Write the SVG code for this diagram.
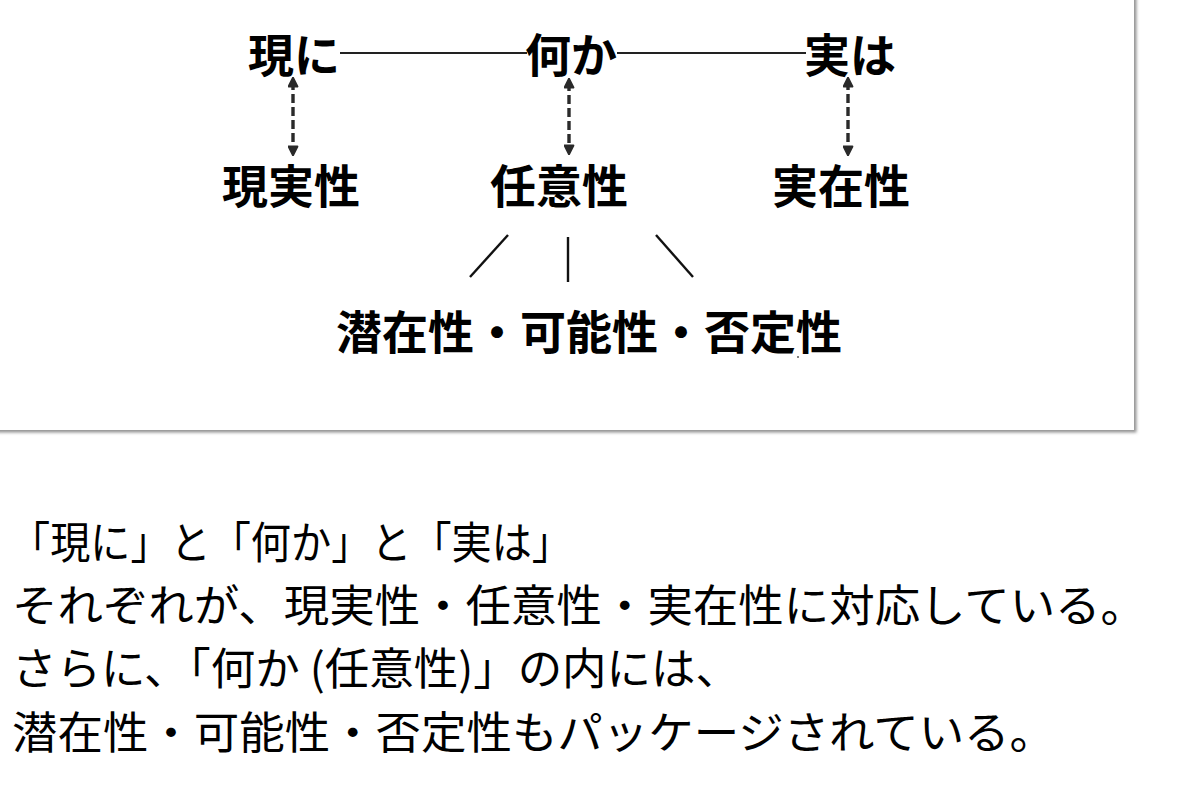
<svg xmlns="http://www.w3.org/2000/svg" width="1200" height="800" viewBox="0 0 1200 800">
  <defs>
    <filter id="shadow" x="-5%" y="-5%" width="110%" height="110%">
      <feDropShadow dx="2.5" dy="2.5" stdDeviation="1.5" flood-color="#777" flood-opacity="0.8"/>
    </filter>
    <marker id="head" viewBox="0 0 10 10" refX="6" refY="5" markerWidth="11" markerHeight="11" markerUnits="userSpaceOnUse" orient="auto-start-reverse">
      <path d="M1,1 L9,5 L1,9 z" fill="#2a2a2a" stroke="#2a2a2a" stroke-width="1.8" stroke-linejoin="round"/>
    </marker>
    <style>
      .lbl { font-family: "Noto Sans CJK JP", "Noto Sans CJK SC", sans-serif; font-weight: bold; font-size: 46px; fill: #000; text-anchor: middle; }
      .body { font-family: "Noto Sans CJK JP", "Noto Sans CJK SC", sans-serif; font-size: 44px; fill: #000; }
      .solid { stroke: #222; stroke-width: 1.8; fill: none; }
      .branch { stroke: #111; stroke-width: 2.4; fill: none; }
      .dash { stroke: #2a2a2a; stroke-width: 3.4; stroke-dasharray: 9 4; fill: none; marker-start: url(#head); marker-end: url(#head); }
    </style>
  </defs>
  <rect x="0" y="0" width="1200" height="800" fill="#ffffff"/>
  <rect x="-10" y="-10" width="1144" height="440" fill="#ffffff" filter="url(#shadow)"/>

  <g id="connectors">
    <line class="solid" x1="340" y1="53" x2="527" y2="53"/>
    <line class="solid" x1="617" y1="53" x2="806" y2="53"/>
    <line class="dash" x1="293" y1="81" x2="293" y2="152"/>
    <line class="dash" x1="569" y1="82" x2="569" y2="151"/>
    <line class="dash" x1="848" y1="81" x2="848" y2="152"/>
    <line class="branch" x1="508" y1="235" x2="470" y2="277"/>
    <line class="branch" x1="568" y1="237" x2="568" y2="282"/>
    <line class="branch" x1="656" y1="235" x2="693" y2="277"/>
  </g>

  <g id="node-genni"><text class="lbl" x="294" y="72">現に</text></g>
  <g id="node-nanika"><text class="lbl" x="571" y="72">何か</text></g>
  <g id="node-jitsuha"><text class="lbl" x="850" y="72">実は</text></g>
  <g id="node-genjitsusei"><text class="lbl" x="291" y="203">現実性</text></g>
  <g id="node-niisei"><text class="lbl" x="559" y="203">任意性</text></g>
  <g id="node-jitsuzaisei"><text class="lbl" x="841" y="203">実在性</text></g>
  <g id="node-sub"><text class="lbl" x="589" y="349">潜在性・可能性・否定性</text></g>
  <circle cx="798" cy="357" r="1" fill="#555"/>

  <g id="caption">
    <text class="body" x="10" y="559" textLength="562" lengthAdjust="spacingAndGlyphs">「現に」と「何か」と「実は」</text>
    <text class="body" x="12" y="622" textLength="1134" lengthAdjust="spacingAndGlyphs">それぞれが、現実性・任意性・実在性に対応している。</text>
    <text class="body" x="12" y="685" textLength="728" lengthAdjust="spacingAndGlyphs">さらに、「何か (任意性)」の内には、</text>
    <text class="body" x="12" y="749" textLength="1043" lengthAdjust="spacingAndGlyphs">潜在性・可能性・否定性もパッケージされている。</text>
  </g>
</svg>
